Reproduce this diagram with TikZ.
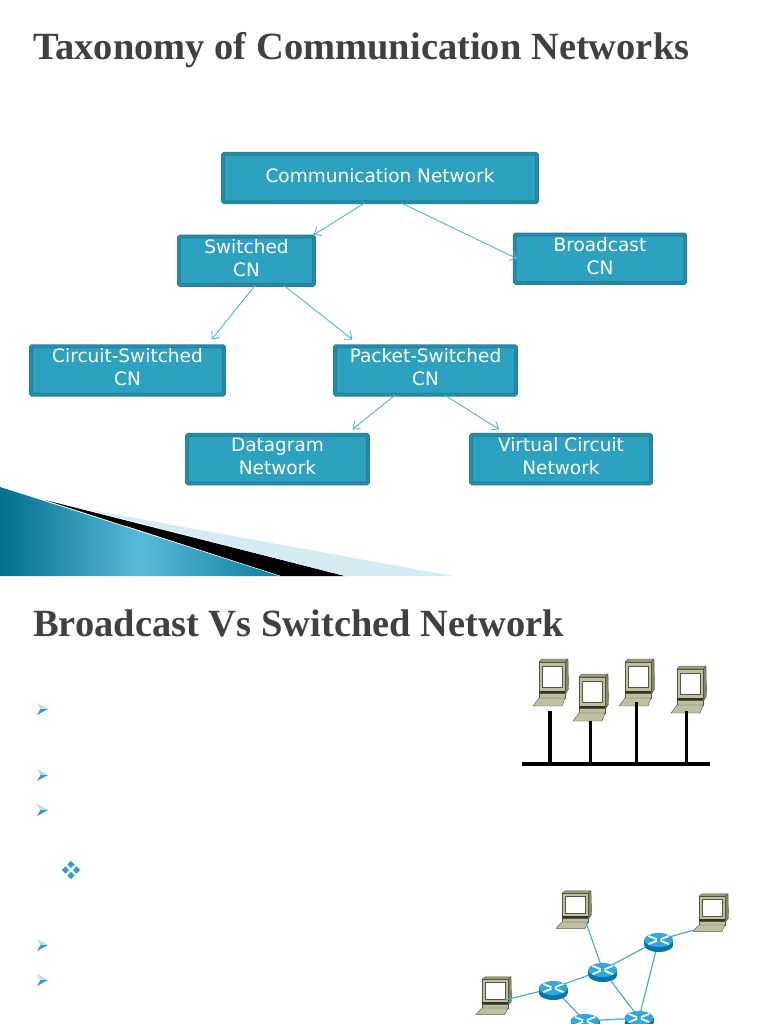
\documentclass[tikz,border=0pt]{standalone}
\usepackage{fontspec}
\setmainfont{DejaVu Sans}
\newfontfamily\titlefont{Liberation Serif}
\usetikzlibrary{calc,arrows.meta,positioning}
\definecolor{boxfill}{HTML}{2DA2C0}
\definecolor{boxrim}{HTML}{237F9C}
\definecolor{boxrimlight}{HTML}{2A8FAB}
\definecolor{arrowblue}{HTML}{52B4D0}
\definecolor{titlegrey}{HTML}{404040}
\definecolor{pctan}{HTML}{BFC0A1}
\definecolor{pcside}{HTML}{85866A}
\definecolor{pcline}{HTML}{55553C}
\definecolor{routertop}{HTML}{2EA8E0}
\definecolor{routerside}{HTML}{0E74A8}
\definecolor{netblue}{HTML}{48AECE}
\definecolor{cornerdark}{HTML}{00708F}
\definecolor{cornerlight}{HTML}{5BB9D9}
\definecolor{cornermid}{HTML}{0A7FA0}

\begin{document}
\begin{tikzpicture}[x=1pt,y=-1pt,>={Straight Barb[length=6pt,width=10pt]}]
\tikzset{
block/.style= {draw=boxrim, double=boxrimlight, line width=1.2pt, double distance=1.4pt, fill=boxfill, rounded corners=1.2pt, minimum height=48.5pt, inner sep=0pt, text depth=6pt, align=center, text=white, font=\fontsize{18.5}{23}\selectfont},
titletext/.style= {anchor=base west, inner sep=0pt, text=titlegrey, font=\titlefont\bfseries\fontsize{38.5}{40}\selectfont},
link/.style= {draw=arrowblue, line width=0.9pt},
lanlink/.style= {draw=black, line cap=butt},
netlink/.style= {draw=netblue, line width=1.2pt},
pc/.pic= {
  \fill [pcside, draw=pcline, line width=0.4pt] (32,4) -- (35,1) -- (35.5,31) -- (32,37) -- cycle;
  \fill [pctan!80!black, draw=pcline, line width=0.4pt] (6,4) -- (9,1) -- (35,1) -- (32,4) -- cycle;
  \fill [pctan, draw=pcline, line width=0.4pt] (6,4) rectangle (32,33);
  \fill [white, draw=pcline, line width=0.8pt] (9,8) rectangle (29.5,29);
  \fill [pcline!60!black] (6,32.5) rectangle (32,35);
  \fill [pctan, draw=pcline, line width=0.4pt] (6,35) rectangle (32,40);
  \fill [pctan, draw=pcline, line width=0.4pt] (6,40) -- (32,40) -- (29,48) -- (0,48) -- cycle;
},
router/.pic= {
  \fill [routerside] (-14.5pt,0pt) rectangle (14.5pt,-5pt);
  \fill [routerside] (0pt,-5pt) ellipse [x radius=14.5pt, y radius=7pt];
  \fill [routertop] (0pt,0pt) ellipse [x radius=14.5pt, y radius=7pt];
  \foreach \a in {22,158,202,338} {
    \draw [white, line width=1.8pt] (\a:2pt) -- (\a:11pt);
  }
},
planebullet/.pic= {
  \fill [boxfill!35!white] (0,-6) -- (11,0) -- (3.5,0) -- cycle;
  \fill [boxfill] (0,6) -- (11,0) -- (3.5,0) -- cycle;
},
clusterbullet/.pic= {
  \foreach \dx/\dy in {0/-5.5,5.5/0,0/5.5,-5.5/0} {
    \fill [boxfill] (\dx-3.6,\dy) -- (\dx,\dy-3.6) -- (\dx+3.6,\dy) -- (\dx,\dy+3.6) -- cycle;
  }
}
}
\useasboundingbox (0,0) rectangle (768,1024);
\clip (0,0) rectangle (768,1024);

\node [titletext](title1) at (33,60) {Taxonomy of Communication Networks};
\node [titletext](title2) at (33,636) {Broadcast Vs Switched Network};

\node [block, minimum width=314pt](communication) at (380,178) {Communication Network};
\node [block, minimum width=135pt, below = 33pt of communication, xshift=-133.5pt](switched) {Switched\\CN};
\node [block, minimum width=170.5pt, below = 31pt of communication, xshift=220pt](broadcast) {Broadcast\\CN};
\node [block, minimum width=193pt, below = 60pt of switched, xshift=-119pt](circuit) {Circuit-Switched\\CN};
\node [block, minimum width=181pt, below = 60pt of switched, xshift=179pt](packet) {Packet-Switched\\CN};
\node [block, minimum width=181pt, below = 39pt of packet, xshift=-148pt](datagram) {Datagram\\Network};
\node [block, minimum width=180pt, below = 39pt of packet, xshift=135.5pt](virtual) {Virtual Circuit\\Network};

\draw [->, link] ([xshift=-15pt]communication.south) -- ([xshift=-1pt,yshift=1pt]switched.north east);
\draw [->, link] ([xshift=21pt]communication.south) -- ([xshift=3pt]broadcast.west);
\draw [->, link] ([xshift=8.5pt]switched.south) -- ([shift={(-13pt,6pt)}]circuit.north east);
\draw [->, link] ([xshift=37.5pt]switched.south) -- ([shift={(-73pt,6pt)}]packet.north);
\draw [->, link] ([xshift=-30.5pt]packet.south) -- ([shift={(75pt,5pt)}]datagram.north);
\draw [->, link] ([xshift=19.5pt]packet.south) -- ([shift={(-62pt,5pt)}]virtual.north);

% slide corner
\shade [left color=cornerdark, right color=cornermid, middle color=cornerlight]
  (0,487) -- (280,576) -- (0,576) -- cycle;
\fill [black] (45,500) -- (345,576) -- (280,576) -- cycle;
\fill [boxfill!20!white] (85,509) -- (453,576) -- (345,576) -- cycle;
\draw [white, line width=0.5pt] (125,526) -- (280,576);

% bullets
\foreach \ypos in {709,775,810,945,980} {
  \pic at (37,\ypos) {planebullet};
}
\pic at (71,870) {clusterbullet};

% shared bus
\pic at (533,658) {pc};
\pic at (573,673) {pc};
\pic at (619,658) {pc};
\pic at (671,665) {pc};
\coordinate (busleft) at (522,764);
\coordinate (busright) at (710,764);
\coordinate (stem1) at (550.3,711);
\coordinate (stem2) at (590,721);
\coordinate (stem3) at (636,702);
\coordinate (stem4) at (686.7,711);
\draw [lanlink, line width=4pt] (stem1) -- (stem1|-busleft);
\draw [lanlink, line width=3pt] (stem2) -- (stem2|-busleft);
\draw [lanlink, line width=3pt] (stem3) -- (stem3|-busleft);
\draw [lanlink, line width=3pt] (stem4) -- (stem4|-busleft);
\draw [lanlink, line width=4pt] (busleft) -- (busright);

% switched net
\pic [yscale=0.8] at (556,890) {pc};
\pic [yscale=0.8] at (693,893) {pc};
\pic [yscale=0.8] at (476,976) {pc};
\coordinate (host1) at (585.7,921.7);
\coordinate (host2) at (694,930);
\coordinate (host3) at (505,1000);
\coordinate (router1) at (553.3,988);
\coordinate (router2) at (602.7,970);
\coordinate (router3) at (658.7,940);
\coordinate (router4) at (639,1018);
\coordinate (router5) at (585,1021);
\draw [netlink] (host1) -- (router2);
\draw [netlink] (host2) -- (router3);
\draw [netlink] (host3) -- (router1);
\draw [netlink] (router1) -- (router2);
\draw [netlink] (router2) -- (router3);
\draw [netlink] (router2) -- (router4);
\draw [netlink] (router3) -- (router4);
\draw [netlink] (router1) -- (router5);
\draw [netlink] (router5) -- (router4);
\pic at (router1) {router};
\pic at (router2) {router};
\pic at (router3) {router};
\pic at (router4) {router};
\pic at (router5) {router};
\end{tikzpicture}
\end{document}
